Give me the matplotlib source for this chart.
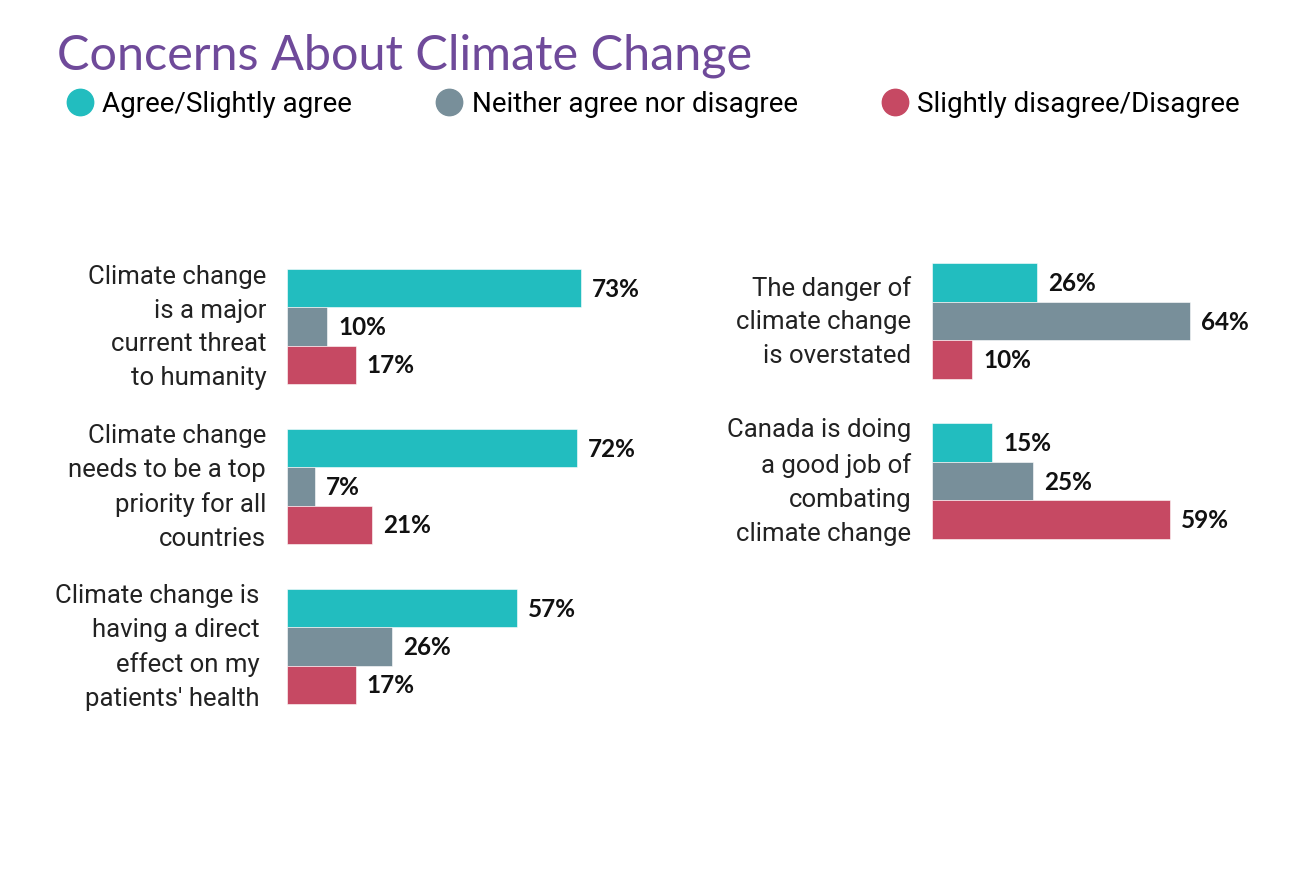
import matplotlib
matplotlib.use("Agg")
import matplotlib.pyplot as plt
import numpy as np
from matplotlib.lines import Line2D

# data
left_labels = ["Climate change\nis a major\ncurrent threat\nto humanity",
               "Climate change\nneeds to be a top\npriority for all\ncountries",
               "Climate change is\nhaving a direct\neffect on my\npatients' health"]
left_agree = [73, 72, 57]
left_neither = [10, 7, 26]
left_disagree = [17, 21, 17]

right_labels = ["The danger of\nclimate change\nis overstated",
                "Canada is doing\na good job of\ncombating\nclimate change"]
right_agree = [26, 15]
right_neither = [64, 25]
right_disagree = [10, 59]

series_names = ["Agree/Slightly agree", "Neither agree nor disagree",
                "Slightly disagree/Disagree"]
colors = ["#22BDBF", "#788F9A", "#C64963"]

W, H = 1290, 878
LABEL_FONT = ["Roboto", "DejaVu Sans"]
VALUE_FONT = ["Lato", "DejaVu Sans"]

fig = plt.figure(figsize=(W / 100, H / 100), dpi=100)


def px_axes(x, y, w, h):
    # axes from pixel box (top-left origin)
    return fig.add_axes([x / W, 1 - (y + h) / H, w / W, h / H])


def draw_group(ax, labels, agree, neither, disagree, label_pad):
    n = len(labels)
    pos = np.arange(n)
    bh = 0.24
    for k, (vals, c) in enumerate(zip([agree, neither, disagree], colors)):
        ypos = pos + (k - 1) * bh
        ax.barh(ypos, vals, height=bh, color=c, edgecolor="white",
                linewidth=0.4)
        for yy, v in zip(ypos, vals):
            ax.annotate("%d%%" % v, (v, yy), xytext=(8, 0),
                        textcoords="offset points", va="center", ha="left",
                        fontsize=17.5, fontweight="bold", family=VALUE_FONT,
                        color="#111111")
    for i, lab in enumerate(labels):
        ax.annotate(lab, (0, pos[i]), xytext=(-label_pad[i], 0),
                    textcoords="offset points", xycoords=("axes fraction", "data"),
                    ha="right", va="center", fontsize=18.5, family=LABEL_FONT,
                    color="#222222", linespacing=1.52, multialignment="right")
    ax.set_xlim(0, 100)
    ax.set_ylim(n - 0.5, -0.5)
    ax.axis("off")


ax1 = px_axes(287, 247.5, 403, 480)
draw_group(ax1, left_labels, left_agree, left_neither, left_disagree,
           [15, 15, 20])

ax2 = px_axes(932, 242, 403, 320)
draw_group(ax2, right_labels, right_agree, right_neither, right_disagree,
           [15, 15])

fig.text(57 / W, 1 - 56 / H, "Concerns About Climate Change", fontsize=35,
         color="#6F4A9A", family=["Lato", "DejaVu Sans"], fontweight="normal",
         va="center", ha="left")

handles = [Line2D([], [], marker="o", linestyle="none", markersize=19,
                  markerfacecolor=c, markeredgecolor=c) for c in colors]
fig.legend(handles, series_names, loc="center left", ncol=3,
           bbox_to_anchor=(55 / W, 1 - 105 / H), frameon=False,
           prop={"family": LABEL_FONT, "size": 20}, handletextpad=0.3,
           columnspacing=3.0, handlelength=1.0, borderaxespad=0)

fig.savefig("out.png", dpi=100)
